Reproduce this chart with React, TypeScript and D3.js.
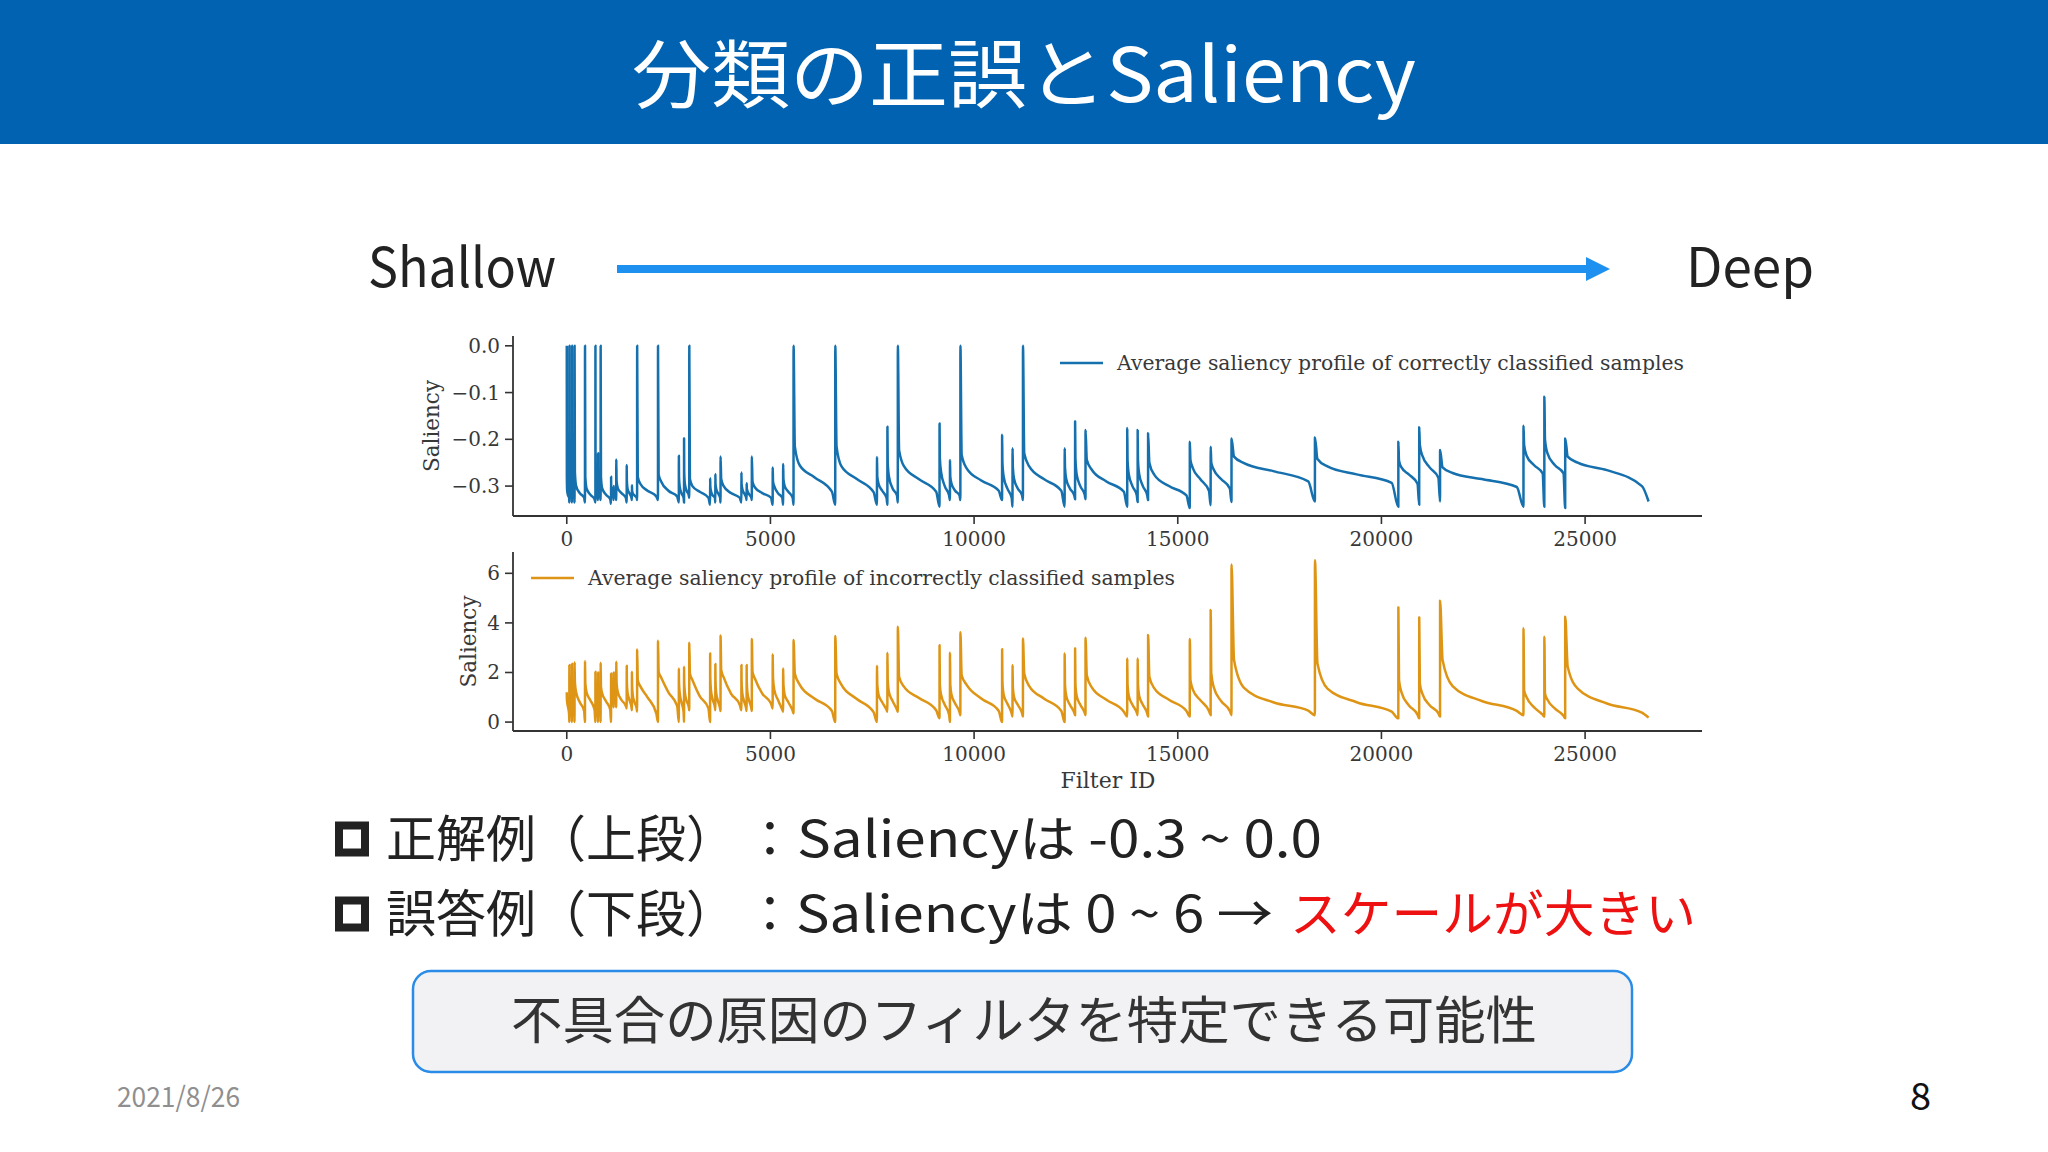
import React from 'react';
import * as d3 from 'd3';

// filters per conv layer (ResNet-50, module order) -> filter ID ranges on the x axis
const layerSizes = [
  64,
  64, 64, 256, 256, 64, 64, 256, 64, 64, 256,
  128, 128, 512, 512, 128, 128, 512, 128, 128, 512, 128, 128, 512,
  256, 256, 1024, 1024, 256, 256, 1024, 256, 256, 1024, 256, 256, 1024, 256, 256, 1024, 256, 256, 1024,
  512, 512, 2048, 2048, 512, 512, 2048, 512, 512, 2048,
];

// where inside each layer the read values sit (fraction of the layer width)
const profileStops = [0, 0.03, 0.15, 0.5, 0.92, 1];

// correctly classified: [peak, knee, shoulder, mid, tail, floor] per layer
const correctProfile = [
  [0.0, -0.28, -0.31, -0.32, -0.325, -0.335],
  [0.0, -0.29, -0.31, -0.32, -0.325, -0.335],
  [0.0, -0.29, -0.31, -0.32, -0.325, -0.335],
  [0.0, -0.27, -0.3, -0.315, -0.325, -0.335],
  [0.0, -0.28, -0.305, -0.318, -0.328, -0.335],
  [0.0, -0.29, -0.31, -0.32, -0.325, -0.33],
  [-0.23, -0.29, -0.31, -0.32, -0.325, -0.33],
  [0.0, -0.28, -0.305, -0.318, -0.328, -0.338],
  [-0.28, -0.3, -0.315, -0.32, -0.325, -0.33],
  [-0.3, -0.31, -0.315, -0.32, -0.325, -0.33],
  [-0.243, -0.29, -0.305, -0.315, -0.325, -0.335],
  [-0.255, -0.29, -0.305, -0.315, -0.325, -0.33],
  [-0.298, -0.31, -0.315, -0.32, -0.325, -0.33],
  [0.0, -0.28, -0.295, -0.31, -0.322, -0.33],
  [0.0, -0.275, -0.29, -0.31, -0.322, -0.335],
  [-0.235, -0.28, -0.3, -0.315, -0.325, -0.335],
  [-0.198, -0.27, -0.295, -0.31, -0.32, -0.325],
  [0.0, -0.285, -0.3, -0.312, -0.325, -0.34],
  [-0.283, -0.3, -0.31, -0.32, -0.325, -0.335],
  [-0.274, -0.295, -0.305, -0.315, -0.325, -0.335],
  [-0.237, -0.285, -0.3, -0.315, -0.325, -0.335],
  [-0.271, -0.295, -0.305, -0.315, -0.325, -0.33],
  [-0.294, -0.305, -0.31, -0.318, -0.325, -0.33],
  [-0.237, -0.29, -0.303, -0.315, -0.325, -0.34],
  [-0.26, -0.29, -0.3, -0.315, -0.325, -0.34],
  [-0.253, -0.285, -0.3, -0.312, -0.325, -0.34],
  [0.0, -0.215, -0.256, -0.281, -0.312, -0.34],
  [0.0, -0.215, -0.258, -0.284, -0.313, -0.34],
  [-0.238, -0.28, -0.295, -0.31, -0.325, -0.34],
  [-0.173, -0.25, -0.28, -0.305, -0.32, -0.335],
  [0.0, -0.223, -0.258, -0.285, -0.312, -0.344],
  [-0.166, -0.24, -0.27, -0.3, -0.32, -0.33],
  [-0.244, -0.28, -0.295, -0.31, -0.32, -0.33],
  [0.0, -0.233, -0.262, -0.288, -0.31, -0.33],
  [-0.19, -0.25, -0.28, -0.305, -0.325, -0.344],
  [-0.219, -0.26, -0.285, -0.305, -0.32, -0.33],
  [0.0, -0.23, -0.258, -0.285, -0.31, -0.344],
  [-0.219, -0.26, -0.285, -0.305, -0.32, -0.328],
  [-0.162, -0.24, -0.275, -0.3, -0.318, -0.328],
  [-0.18, -0.244, -0.265, -0.29, -0.312, -0.344],
  [-0.176, -0.245, -0.275, -0.3, -0.32, -0.334],
  [-0.18, -0.245, -0.275, -0.3, -0.32, -0.33],
  [-0.187, -0.25, -0.276, -0.3, -0.32, -0.347],
  [-0.205, -0.244, -0.262, -0.285, -0.31, -0.341],
  [-0.216, -0.25, -0.265, -0.285, -0.305, -0.334],
  [-0.198, -0.237, -0.251, -0.268, -0.29, -0.333],
  [-0.196, -0.242, -0.258, -0.275, -0.293, -0.344],
  [-0.205, -0.245, -0.26, -0.275, -0.295, -0.34],
  [-0.174, -0.212, -0.235, -0.26, -0.282, -0.333],
  [-0.223, -0.26, -0.272, -0.285, -0.302, -0.344],
  [-0.171, -0.212, -0.235, -0.255, -0.273, -0.344],
  [-0.109, -0.2, -0.23, -0.255, -0.273, -0.347],
  [-0.198, -0.237, -0.25, -0.266, -0.3, -0.333],
];

// incorrectly classified: [peak, knee, shoulder, mid, tail, floor] per layer
const incorrectProfile = [
  [1.2, 1.0, 0.8, 0.6, 0.3, 0.0],
  [2.3, 1.6, 1.2, 0.8, 0.4, 0.0],
  [2.35, 1.6, 1.2, 0.8, 0.4, 0.0],
  [2.41, 1.6, 1.2, 0.8, 0.45, 0.0],
  [2.46, 1.56, 1.2, 0.89, 0.5, 0.0],
  [2.03, 1.5, 1.1, 0.8, 0.4, 0.0],
  [2.0, 1.5, 1.1, 0.8, 0.4, 0.0],
  [2.39, 1.43, 1.15, 0.85, 0.5, 0.0],
  [1.96, 1.6, 1.3, 1.0, 0.8, 0.6],
  [2.0, 1.6, 1.3, 1.0, 0.8, 0.6],
  [2.43, 1.56, 1.2, 0.89, 0.65, 0.55],
  [2.27, 1.6, 1.2, 0.9, 0.6, 0.48],
  [2.03, 1.5, 1.1, 0.8, 0.55, 0.42],
  [2.93, 1.69, 1.45, 1.0, 0.35, 0.0],
  [3.28, 2.03, 1.8, 1.2, 0.65, 0.0],
  [2.16, 1.6, 1.2, 0.8, 0.4, 0.0],
  [2.23, 1.6, 1.2, 0.85, 0.6, 0.48],
  [3.2, 1.96, 1.7, 1.05, 0.55, 0.0],
  [2.77, 1.8, 1.3, 0.9, 0.6, 0.48],
  [2.34, 1.6, 1.2, 0.85, 0.55, 0.45],
  [3.49, 2.1, 1.8, 1.15, 0.7, 0.48],
  [2.3, 1.6, 1.2, 0.85, 0.55, 0.45],
  [2.3, 1.6, 1.2, 0.85, 0.55, 0.45],
  [3.35, 2.03, 1.75, 1.15, 0.75, 0.55],
  [2.74, 1.8, 1.3, 0.9, 0.5, 0.42],
  [2.16, 1.5, 1.1, 0.8, 0.45, 0.35],
  [3.31, 1.96, 1.5, 0.95, 0.45, 0.0],
  [3.47, 1.96, 1.5, 0.95, 0.4, 0.0],
  [2.27, 1.5, 1.1, 0.8, 0.5, 0.42],
  [2.8, 1.7, 1.2, 0.85, 0.5, 0.42],
  [3.84, 1.83, 1.42, 0.98, 0.48, 0.15],
  [3.1, 1.5, 1.1, 0.7, 0.3, 0.0],
  [2.8, 1.5, 1.1, 0.75, 0.4, 0.28],
  [3.62, 1.89, 1.5, 0.95, 0.45, 0.0],
  [2.94, 1.6, 1.1, 0.75, 0.35, 0.22],
  [2.3, 1.4, 1.0, 0.7, 0.35, 0.22],
  [3.37, 1.96, 1.45, 0.95, 0.45, 0.0],
  [2.77, 1.5, 1.05, 0.7, 0.38, 0.28],
  [2.97, 1.5, 1.05, 0.7, 0.38, 0.28],
  [3.4, 1.89, 1.4, 0.9, 0.42, 0.22],
  [2.57, 1.5, 1.05, 0.7, 0.38, 0.28],
  [2.57, 1.5, 1.05, 0.7, 0.35, 0.22],
  [3.51, 1.83, 1.36, 0.9, 0.45, 0.22],
  [3.35, 1.69, 1.3, 0.89, 0.45, 0.28],
  [4.52, 1.96, 1.4, 0.85, 0.45, 0.28],
  [6.36, 2.5, 1.38, 0.8, 0.46, 0.28],
  [6.53, 2.36, 1.35, 0.8, 0.42, 0.15],
  [4.62, 1.7, 1.2, 0.68, 0.3, 0.15],
  [4.22, 1.56, 1.15, 0.68, 0.35, 0.22],
  [4.89, 2.5, 1.45, 0.85, 0.45, 0.28],
  [3.78, 1.29, 1.0, 0.6, 0.3, 0.22],
  [3.44, 1.15, 0.9, 0.55, 0.25, 0.15],
  [4.25, 2.23, 1.35, 0.75, 0.38, 0.18],
];

const xTicks = [0, 5000, 10000, 15000, 20000, 25000];
const correctTicks = [0.0, -0.1, -0.2, -0.3];
const incorrectTicks = [0, 2, 4, 6];

const SERIF = '"DejaVu Serif", serif';
const SANS = '"Noto Sans CJK JP", "Noto Sans", sans-serif';
const AXIS = '#333';
const LABEL = '#383838';

function profilePoints(rows: number[][]) {
  const pts: [number, number][] = [];
  let start = 0;
  layerSizes.forEach((n, i) => {
    profileStops.forEach((f, j) => pts.push([start + f * (n - 1), rows[i][j]]));
    start += n;
  });
  return pts;
}

const x = d3.scaleLinear().domain([-1320, 27870]).range([513, 1702]);
const yTop = d3.scaleLinear().domain([-0.364, 0.021]).range([516, 336]);
const yBot = d3.scaleLinear().domain([-0.36, 6.86]).range([731, 552]);

function Panel({ y, ticks, fmt, rows, color, legend, legendX, legendY, legendW, labelX }) {
  const line = d3.line<[number, number]>()
    .x(d => x(d[0]))
    .y(d => y(d[1]))
    .curve(d3.curveMonotoneX);
  const [y0, y1] = y.range();
  const x0 = x.range()[0];
  const yMid = (y0 + y1) / 2;
  return (
    <g>
      <path d={line(profilePoints(rows)) || ''} fill="none" stroke={color} strokeWidth={2.5} strokeLinejoin="round" />
      <line x1={x0} x2={x.range()[1]} y1={y0} y2={y0} stroke={AXIS} strokeWidth={1.8} />
      <line x1={x0} x2={x0} y1={y0} y2={y1} stroke={AXIS} strokeWidth={1.8} />
      {xTicks.map(t => (
        <g key={t}>
          <line x1={x(t)} x2={x(t)} y1={y0} y2={y0 + 8} stroke={AXIS} strokeWidth={1.6} />
          <text x={x(t)} y={y0 + 30} textAnchor="middle" fontFamily={SERIF} fontSize={20} fill={LABEL}>{t}</text>
        </g>
      ))}
      {ticks.map(t => (
        <g key={t}>
          <line x1={x0 - 8} x2={x0} y1={y(t)} y2={y(t)} stroke={AXIS} strokeWidth={1.6} />
          <text x={x0 - 13} y={y(t) + 7} textAnchor="end" fontFamily={SERIF} fontSize={20} fill={LABEL}>{fmt(t)}</text>
        </g>
      ))}
      <text transform={`translate(${labelX},${yMid}) rotate(-90)`} textAnchor="middle" fontFamily={SERIF} fontSize={21.5} fill={LABEL}>Saliency</text>
      <line x1={legendX} x2={legendX + 43} y1={legendY} y2={legendY} stroke={color} strokeWidth={2.5} />
      <text x={legendX + 57} y={legendY + 7} fontFamily={SERIF} fontSize={21} fill={LABEL}
        textLength={legendW} lengthAdjust="spacingAndGlyphs">{legend}</text>
    </g>
  );
}

export default function App() {
  const fmtTop = d3.format('.1f');
  const fmtBot = d3.format('d');
  return (
    <svg width={2048} height={1152} style={{ position: 'absolute', left: 0, top: 0, background: '#fff' }}>
      <rect x={0} y={0} width={2048} height={1152} fill="#fff" />
      <rect x={0} y={0} width={2048} height={144} fill="#0062b0" />
      <text x={1024} y={102} textAnchor="middle" fontFamily={SANS} fontSize={75} fontWeight={400} fill="#fff"
        textLength={784} lengthAdjust="spacingAndGlyphs">分類の正誤とSaliency</text>

      <text x={368} y={287} fontFamily={SANS} fontSize={54} fill="#222" textLength={188} lengthAdjust="spacingAndGlyphs">Shallow</text>
      <text x={1686} y={287} fontFamily={SANS} fontSize={54} fill="#222" textLength={128} lengthAdjust="spacingAndGlyphs">Deep</text>
      <rect x={617} y={265} width={972} height={8} fill="#1e90f0" />
      <path d="M1586,257 L1610,269 L1586,281 Z" fill="#1e90f0" />

      <Panel y={yTop} ticks={correctTicks} fmt={fmtTop} rows={correctProfile} color="#1570ad"
        legend="Average saliency profile of correctly classified samples"
        legendX={1060} legendY={363} legendW={567} labelX={439} />
      <Panel y={yBot} ticks={incorrectTicks} fmt={fmtBot} rows={incorrectProfile} color="#de9516"
        legend="Average saliency profile of incorrectly classified samples"
        legendX={531} legendY={578} legendW={587} labelX={476} />
      <text x={1108} y={788} textAnchor="middle" fontFamily={SERIF} fontSize={22} fill={LABEL}
        textLength={95} lengthAdjust="spacingAndGlyphs">Filter ID</text>

      <rect x={339} y={825.5} width={26} height={27} fill="none" stroke="#222" strokeWidth={8} />
      <text x={386} y={857} fontFamily={SANS} fontSize={50} fill="#222">正解例（上段）</text>
      <text x={770} y={857} textAnchor="middle" fontFamily={SANS} fontSize={50} fill="#222">：</text>
      <text x={797} y={857} fontFamily={SANS} fontSize={50} fill="#222" textLength={525} lengthAdjust="spacingAndGlyphs">Saliencyは -0.3 ~ 0.0</text>

      <rect x={339} y={900.5} width={26} height={27} fill="none" stroke="#222" strokeWidth={8} />
      <text x={386} y={932} fontFamily={SANS} fontSize={50} fill="#222">誤答例（下段）</text>
      <text x={770} y={932} textAnchor="middle" fontFamily={SANS} fontSize={50} fill="#222">：</text>
      <text x={796} y={932} fontFamily={SANS} fontSize={50} fill="#222" textLength={477} lengthAdjust="spacingAndGlyphs">Saliencyは 0 ~ 6 →</text>
      <text x={1290} y={932} fontFamily={SANS} fontSize={50} fill="#ee1111" textLength={406} lengthAdjust="spacingAndGlyphs">スケールが大きい</text>

      <rect x={413} y={971} width={1219} height={101} rx={18} ry={18} fill="#f2f2f4" stroke="#2a8ce6" strokeWidth={2.5} />
      <text x={1024} y={1039} textAnchor="middle" fontFamily={SANS} fontSize={51} fill="#333"
        textLength={1026} lengthAdjust="spacingAndGlyphs">不具合の原因のフィルタを特定できる可能性</text>

      <text x={117} y={1107} fontFamily={SANS} fontSize={28} fill="#8f8f8f" textLength={123} lengthAdjust="spacingAndGlyphs">2021/8/26</text>
      <text x={1910} y={1110} fontFamily={SANS} fontSize={38} fill="#111">8</text>
    </svg>
  );
}
